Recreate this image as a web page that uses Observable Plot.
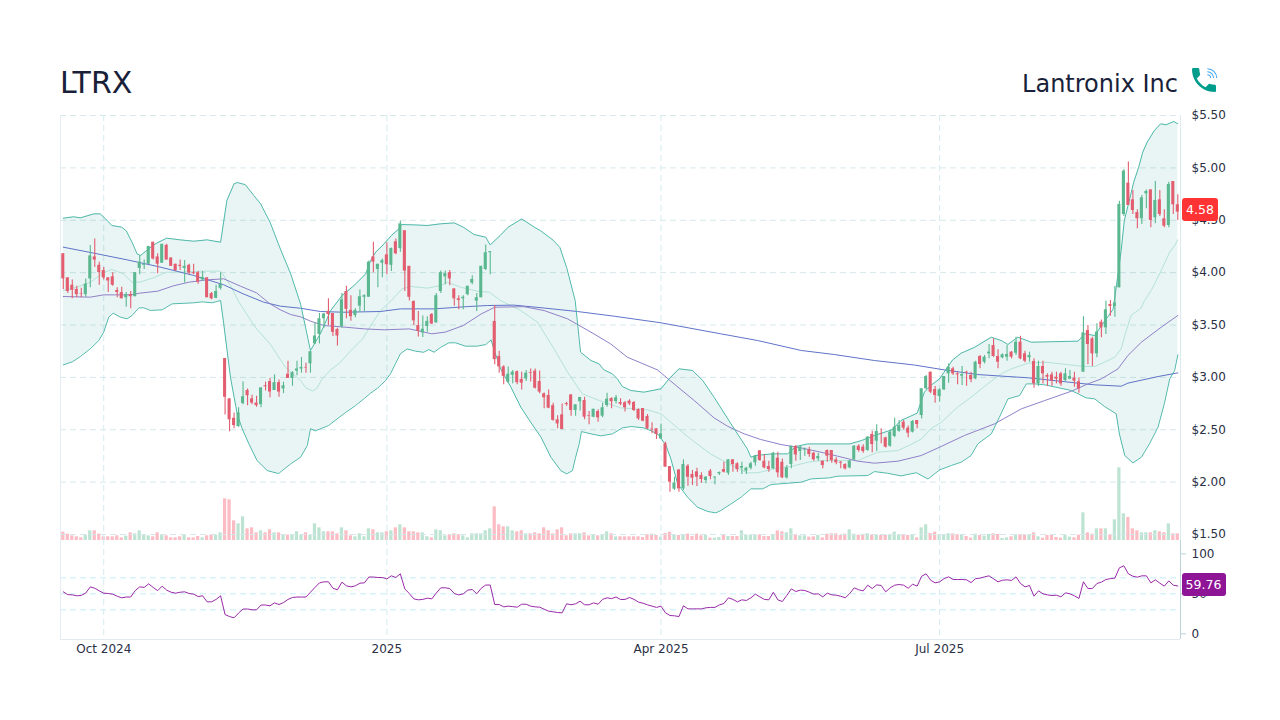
<!DOCTYPE html>
<html><head><meta charset="utf-8">
<script src="https://cdn.jsdelivr.net/npm/d3@7"></script>
<script src="https://cdn.jsdelivr.net/npm/@observablehq/plot@0.6"></script>
<style>
html,body{margin:0;background:#fff;font-family:"DejaVu Sans",sans-serif;}
#root{position:relative;width:1280px;height:720px;overflow:hidden;}
#root svg.plot{position:absolute;left:0;overflow:visible;background:transparent;}
.t{position:absolute;color:#1a1f3a;white-space:nowrap;line-height:1;}
.badge{position:absolute;color:#fff;font-size:12.5px;border-radius:3px;display:flex;align-items:center;justify-content:center;height:23px;}
</style></head><body><div id="root">
<div class="t" style="left:60px;top:68px;font-size:30px;">LTRX</div>
<div class="t" style="right:102px;top:72px;font-size:24px;">Lantronix Inc</div>
<svg style="position:absolute;left:1188px;top:64px" width="32" height="32" viewBox="0 0 24 24"><path fill="#009c8c" d="M6.62 10.79c1.44 2.83 3.76 5.14 6.59 6.59l2.2-2.2c.27-.27.67-.36 1.02-.24 1.12.37 2.33.57 3.57.57.55 0 1 .45 1 1V20c0 .55-.45 1-1 1-9.39 0-17-7.61-17-17 0-.55.45-1 1-1h3.5c.55 0 1 .45 1 1 0 1.25.2 2.45.57 3.57.11.35.03.74-.25 1.02l-2.2 2.2z"/><g fill="none" stroke="#42a5f5" stroke-width=".8"><path d="M14.5 8a2.5 2.5 0 0 1 2.5 2.5"/><path d="M14.5 5.8a4.7 4.7 0 0 1 4.7 4.7"/><path d="M14.5 3.5a7 7 0 0 1 7 7"/></g></svg>
</div>
<script>
const open=[4.18,3.95,3.88,3.84,3.80,3.79,3.94,4.15,4.07,4.02,
3.95,3.96,3.83,3.81,3.76,3.79,3.77,4.04,4.07,4.08,
4.29,4.15,4.09,4.26,4.14,4.08,4.07,4.04,4.07,4.00,
4.00,3.93,3.95,3.80,3.755,3.85,3.18,2.795,2.61,2.53,
2.75,2.875,2.795,2.755,2.74,2.92,2.96,2.875,2.95,2.89,
3.03,2.99,3.06,3.08,3.095,3.13,3.32,3.41,3.56,3.63,
3.61,3.457,3.485,3.82,3.64,3.59,3.68,3.765,3.765,4.15,
4.03,4.09,4.17,4.07,4.295,4.23,4.40,4.06,3.725,3.495,
3.425,3.485,3.60,3.52,3.82,3.96,4.00,3.845,3.75,3.75,
3.79,3.90,3.728,3.76,4.03,4.19,3.534,3.20,3.10,2.955,
3.02,3.055,2.98,2.985,3.047,3.06,2.96,2.843,2.827,2.73,
2.595,2.642,2.75,2.833,2.684,2.767,2.779,2.636,2.62,2.674,
2.63,2.732,2.798,2.77,2.76,2.757,2.773,2.76,2.693,2.703,
2.627,2.506,2.509,2.413,2.366,2.149,1.933,2.117,1.936,2.152,
2.073,2.098,2.063,2.016,2.105,2.04,2.079,2.12,2.085,2.213,
2.175,2.133,2.105,2.133,2.184,2.299,2.20,2.149,2.127,2.229,
2.19,2.041,2.168,2.34,2.292,2.302,2.308,2.276,2.222,2.20,
2.302,2.302,2.213,2.19,2.168,2.136,2.213,2.343,2.334,2.302,
2.455,2.391,2.46,2.423,2.343,2.436,2.486,2.572,2.515,2.477,
2.588,2.636,2.891,3.05,2.884,2.817,2.881,3.034,3.082,3.034,
3.012,3.05,3.018,2.986,3.199,3.145,3.225,3.304,3.199,3.187,
3.193,3.241,3.231,3.336,3.225,3.187,3.152,2.938,3.104,3.018,
3.024,3.002,3.034,2.97,2.983,2.993,2.958,3.05,3.447,3.368,
3.225,3.527,3.473,3.696,3.677,3.855,4.555,4.854,4.695,4.574,
4.514,4.752,4.79,4.523,4.695,4.514,4.45,4.87,4.648];
const high=[4.18,3.95,3.93,3.87,3.85,3.94,4.26,4.32,4.10,4.05,
3.95,4.00,3.855,3.86,3.81,3.82,4.00,4.16,4.12,4.25,
4.29,4.18,4.27,4.27,4.14,4.08,4.12,4.115,4.08,4.08,
4.01,4.01,3.95,3.81,3.88,4.00,3.18,2.795,2.66,2.71,
2.955,2.89,2.83,2.82,2.90,2.955,2.99,3.025,2.975,2.955,
3.155,3.055,3.155,3.19,3.136,3.245,3.52,3.61,3.61,3.75,
3.61,3.47,3.80,3.87,3.78,3.655,3.835,3.79,4.11,4.29,
4.08,4.13,4.285,4.235,4.32,4.49,4.40,4.06,3.73,3.63,
3.585,3.58,3.61,3.80,4.015,4.015,4.02,3.845,3.78,3.78,
3.87,3.97,3.80,4.06,4.265,4.20,3.686,3.25,3.11,3.10,
3.065,3.06,3.05,3.065,3.08,3.08,3.06,2.85,2.88,2.754,
2.633,2.747,2.763,2.833,2.738,2.811,2.811,2.674,2.696,2.69,
2.754,2.849,2.805,2.827,2.795,2.77,2.786,2.77,2.70,2.703,
2.646,2.566,2.509,2.556,2.382,2.149,2.047,2.117,2.213,2.168,
2.111,2.133,2.089,2.054,2.12,2.054,2.098,2.19,2.213,2.213,
2.184,2.19,2.143,2.19,2.254,2.299,2.264,2.20,2.286,2.286,
2.222,2.159,2.343,2.35,2.35,2.327,2.334,2.286,2.276,2.20,
2.308,2.302,2.232,2.197,2.175,2.206,2.35,2.356,2.356,2.436,
2.486,2.547,2.509,2.429,2.499,2.61,2.588,2.588,2.537,2.588,
2.588,2.891,3.018,3.05,2.913,2.891,3.008,3.129,3.098,3.05,
3.104,3.059,3.05,3.155,3.209,3.209,3.314,3.368,3.263,3.225,
3.304,3.247,3.384,3.393,3.25,3.241,3.177,3.155,3.155,3.034,
3.05,3.05,3.05,3.082,3.066,3.05,2.996,3.58,3.495,3.384,
3.511,3.549,3.728,3.734,3.868,4.682,4.982,5.055,4.784,4.60,
4.737,4.79,4.79,4.87,4.784,4.60,4.864,4.87,4.743];
const low=[3.84,3.80,3.75,3.76,3.76,3.765,3.855,4.05,3.88,3.93,
3.81,3.87,3.76,3.75,3.67,3.655,3.77,3.98,4.03,4.08,
4.12,3.99,4.09,4.12,4.06,4.01,4.02,3.90,3.98,3.98,
3.89,3.915,3.76,3.74,3.75,3.835,2.64,2.48,2.51,2.525,
2.74,2.73,2.74,2.715,2.71,2.87,2.805,2.875,2.81,2.845,
2.99,2.915,3.015,3.04,3.04,3.04,3.315,3.32,3.47,3.495,
3.39,3.30,3.47,3.56,3.535,3.57,3.62,3.63,3.765,4.00,
3.855,3.95,3.98,4.01,4.17,4.195,3.82,3.73,3.495,3.385,
3.38,3.43,3.505,3.52,3.80,3.885,3.875,3.68,3.645,3.645,
3.78,3.885,3.63,3.76,4.02,3.98,3.12,3.04,2.93,2.94,
2.94,2.93,2.88,2.96,2.955,2.89,2.845,2.70,2.70,2.582,
2.509,2.50,2.725,2.63,2.63,2.678,2.595,2.547,2.614,2.572,
2.614,2.716,2.70,2.747,2.73,2.67,2.73,2.674,2.588,2.576,
2.503,2.461,2.407,2.407,2.143,1.904,1.92,1.904,1.92,1.962,
1.968,1.958,1.99,1.984,2.022,1.974,2.063,2.088,2.063,2.095,
2.095,2.073,2.073,2.117,2.152,2.20,2.127,2.095,2.12,2.041,
2.035,2.031,2.127,2.20,2.206,2.248,2.238,2.20,2.20,2.127,
2.19,2.181,2.165,2.127,2.117,2.127,2.206,2.286,2.276,2.295,
2.28,2.292,2.366,2.327,2.334,2.423,2.477,2.499,2.423,2.47,
2.509,2.604,2.881,2.843,2.754,2.763,2.875,2.945,3.018,2.929,
2.922,2.916,2.948,2.977,3.082,3.129,3.177,3.193,3.082,3.177,
3.155,3.177,3.209,3.168,3.139,3.145,2.897,2.913,2.938,2.913,
2.916,2.938,2.916,2.961,2.977,2.907,2.849,3.05,3.12,3.104,
3.187,3.378,3.41,3.584,3.575,3.855,4.536,4.641,4.555,4.418,
4.46,4.61,4.428,4.466,4.536,4.428,4.428,4.555,4.498];
const close=[3.94,3.82,3.83,3.79,3.795,3.89,4.16,4.12,4.00,3.95,
3.92,3.88,3.81,3.75,3.79,3.77,4.00,4.10,4.08,4.25,
4.13,4.08,4.27,4.12,4.06,4.02,4.06,4.06,3.995,3.99,
3.91,3.955,3.76,3.75,3.82,3.89,2.81,2.595,2.54,2.66,
2.815,2.825,2.755,2.73,2.90,2.91,2.86,2.95,2.86,2.92,
2.99,3.045,3.08,3.095,3.09,3.245,3.395,3.56,3.605,3.60,
3.43,3.395,3.74,3.65,3.58,3.64,3.77,3.78,4.10,4.10,
4.08,4.115,4.075,4.23,4.18,4.465,4.015,3.765,3.54,3.44,
3.46,3.535,3.51,3.78,4.00,3.99,3.94,3.75,3.735,3.765,
3.87,3.935,3.76,4.06,4.19,4.20,3.17,3.10,3.01,3.03,
3.05,2.95,2.945,3.04,3.04,2.897,2.86,2.805,2.706,2.59,
2.556,2.503,2.74,2.684,2.738,2.808,2.62,2.63,2.696,2.614,
2.71,2.792,2.767,2.805,2.744,2.71,2.747,2.684,2.604,2.582,
2.509,2.50,2.455,2.461,2.143,2.00,1.99,1.936,2.168,2.047,
2.038,2.047,2.025,2.047,2.054,2.047,2.092,2.095,2.213,2.168,
2.12,2.149,2.133,2.175,2.248,2.206,2.136,2.12,2.276,2.089,
2.041,2.136,2.343,2.26,2.334,2.308,2.264,2.213,2.245,2.159,
2.248,2.206,2.184,2.181,2.127,2.20,2.343,2.302,2.292,2.429,
2.359,2.483,2.455,2.334,2.477,2.525,2.54,2.515,2.467,2.579,
2.55,2.891,3.008,2.859,2.827,2.881,3.008,3.098,3.034,3.024,
3.027,3.043,2.977,3.145,3.123,3.193,3.241,3.199,3.145,3.215,
3.218,3.193,3.336,3.177,3.155,3.209,2.938,3.104,3.034,3.002,
2.964,2.983,2.938,3.034,3.008,2.964,2.891,3.425,3.314,3.225,
3.432,3.473,3.645,3.677,3.709,4.651,4.969,4.641,4.593,4.514,
4.714,4.775,4.498,4.689,4.555,4.444,4.842,4.648,4.578];
const volume=[417,317,233,183,133,267,483,483,317,183,
183,183,233,133,217,383,333,483,267,233,
183,383,283,233,133,133,183,267,133,133,
200,133,233,267,267,383,2083,2033,983,833,
1183,583,633,383,483,383,533,383,383,267,
267,267,433,267,383,267,833,633,433,433,
433,333,633,483,233,183,333,183,583,533,
383,383,433,483,633,783,633,433,433,383,
383,183,133,533,483,233,283,333,283,233,
133,333,333,333,483,583,1683,783,683,683,
483,433,483,333,333,383,333,633,483,333,
533,633,233,333,333,333,383,233,283,233,
283,433,333,183,183,183,183,183,183,150,
283,317,250,167,350,417,250,250,283,317,
200,317,233,250,117,117,150,250,200,200,
200,483,267,267,267,283,200,200,250,483,
433,383,583,283,233,233,167,183,250,133,
317,333,333,250,317,533,317,267,267,333,
267,283,250,250,283,417,283,250,250,250,
133,633,783,350,417,283,283,333,333,283,
283,200,117,317,250,217,300,333,300,100,
133,183,283,283,250,283,383,183,117,250,
250,150,117,250,167,133,267,1383,383,317,
583,583,583,283,1033,3633,1333,1150,583,483,
383,383,383,483,433,383,833,333,333];
const rsi=[52.5,49,48.7,47.5,48,51,58.7,57,53.7,50.8,
50.4,49.6,47,45,46,46,54,58.7,58,62.5,
58,54,59.6,54.6,52,50.8,52,52.5,50.4,49.6,
46.6,47.5,40,40,43,47.5,24,21.6,20,26,
31,31,30,30,36,36,35,38.7,36.6,39,
43,45.4,46,46,46,52,58,63.7,65,65,
57,55,64.6,60,58.7,60,63.3,63.7,71,71,
70.4,70.4,68.7,72.5,70.4,75,56,50.4,43.7,42.5,
43,44.6,43.7,51,57.5,57.5,56.6,50.4,48.7,50,
54.6,55.4,50,57,61,61,36.6,36.6,33.7,34.6,
34,33.3,37,37,34.6,33.7,33.3,30.8,28.3,27.5,
26.6,26.2,37.5,36.3,37.5,40.8,36.3,36.3,38.7,37,
43,45,44,46,42.9,43,45.4,43,39.6,38.3,
36.2,34.6,33,34.6,26.2,22.9,22.5,21.6,35,31.2,
31.2,31.2,31.2,32.5,33,33,36.2,37.9,45,43,
40,42.5,41.7,45,49.6,46.2,43,42.5,52,42.5,
40.4,48,56.2,52.9,54.6,54.2,52,49.6,50,46.2,
50.8,48.7,48.3,47,45,50.4,57.5,55,53.7,60.8,
56.6,61.2,60.4,52.5,57.5,60.8,61.6,60.8,57,62,
59.6,72,75,67,63.7,65,69,71.2,67.9,67.9,
67.9,67.5,64,69,69.6,71.2,72.5,68.7,65,67,
67.5,66.7,71.2,62.9,58.7,60.4,47,53.7,50,48.7,
47.9,48.3,46.2,51.2,50,47.5,44.2,65,56.6,56.6,
62.9,64.6,67.9,69,69.6,82.5,85,75,72,70.8,
72.5,72.5,63.7,67.5,63.3,59.6,66.2,60.8,59.76];
const upperIdx=[0,2.3,3.8,6.8,8.2,9.4,10.8,13,14,15.3,16.4,17.2,18.5,20.5,23,26,29,32,35,36.4,38,38.7,40.5,42.4,43.9,46,48.3,50.6,52.8,53.9,55,57.2,59.5,62,64.7,67.3,68.4,69.5,71.4,73,74.7,75.3,78,81,84,87,89,91.4,94,95,97.2,99,102,104.8,106.2,109,110.5,112,113.9,115.1,117.4,119.2,120.3,122.2,123.3,124.4,126.3,129.2,133,134.8,137,140,142.3,144.8,149.3,152.2,153,154,157.8,161.2,163,165.6,175,177.6,180.5,184.4,186.4,190,191.6,193,195,196,197.9,199.8,202.8,206.5,208.7,210.2,212.4,215.4,225.8,227.3,229.5,231.3,233.6,234.3,235.4,236.1,237.3,238.2,239.3,240.2,241.2,242.8,244.2,245.4,247.1,248];
const upperVal=[4.52,4.533,4.523,4.561,4.561,4.514,4.45,4.434,4.40,4.29,4.18,4.164,4.21,4.275,4.329,4.313,4.30,4.313,4.29,4.689,4.848,4.86,4.84,4.736,4.657,4.482,4.227,3.988,3.70,3.48,3.256,3.416,3.638,3.78,3.877,3.988,4.116,4.195,4.275,4.354,4.418,4.459,4.456,4.45,4.466,4.475,4.434,4.364,4.338,4.265,4.354,4.434,4.513,4.434,4.40,4.31,4.24,4.05,3.734,3.241,3.161,3.13,3.072,3.034,2.986,2.913,2.875,2.859,2.891,2.986,3.082,3.066,2.97,2.811,2.509,2.318,2.238,2.254,2.27,2.27,2.34,2.365,2.365,2.397,2.445,2.5,2.588,2.658,2.859,2.922,2.986,3.05,3.167,3.231,3.288,3.384,3.352,3.314,3.384,3.336,3.346,3.416,3.40,3.511,3.65,3.86,4.212,4.498,4.705,4.864,5.007,5.15,5.246,5.357,5.421,5.411,5.443,5.421];
const lowerIdx=[0,2,3.8,6,7.9,9,10.1,11.1,12.7,14.2,15.3,16.8,17.9,19.4,22,24.2,29,30.9,33.1,35,35.7,37.2,38.7,39.8,41.3,43.1,45.4,47.9,50.6,52.8,54.3,55,56.1,59,62.8,65,67,68.4,70,71.7,72.8,73.9,75,76.5,78.4,80.2,81.3,82.5,84,85.8,87.3,89.5,92.1,94,95.2,95.9,97.3,99.6,101.8,104,106.3,108.5,110.7,112,113.3,114,114.8,115.3,117.4,119.6,122.2,124.4,126.3,129.2,131,132.6,134.1,135.2,136.7,138.9,141.1,143.4,145.2,146.3,148.6,150.8,153,155.6,157.5,164.2,166.4,170.5,172.3,175.3,179,180.5,183.4,186.4,189.8,192.4,195,197.6,199.8,202,203.5,206.5,208.3,210.2,212.8,214.3,216.1,218.4,224.3,227.6,229.5,231.7,234.3,235,236.2,238,239.9,241.7,243.6,245,246.2,247.3,248];
const lowerVal=[3.12,3.148,3.199,3.273,3.352,3.432,3.575,3.613,3.575,3.559,3.591,3.664,3.664,3.639,3.645,3.702,3.712,3.721,3.712,3.734,3.511,3.0,2.652,2.509,2.366,2.207,2.11,2.082,2.175,2.238,2.35,2.51,2.49,2.54,2.665,2.73,2.80,2.85,2.90,2.97,3.034,3.13,3.225,3.272,3.25,3.24,3.266,3.24,3.288,3.33,3.33,3.298,3.298,3.314,3.358,3.257,3.082,2.907,2.716,2.572,2.429,2.238,2.11,2.079,2.11,2.238,2.366,2.483,2.461,2.442,2.461,2.518,2.531,2.518,2.487,2.445,2.35,2.222,1.984,1.857,1.761,1.72,1.707,1.729,1.793,1.856,1.936,1.936,1.977,2.0,2.031,2.041,2.057,2.06,2.063,2.101,2.085,2.06,2.09,2.03,2.117,2.159,2.191,2.254,2.366,2.461,2.62,2.795,2.827,2.938,2.938,2.929,2.875,2.805,2.795,2.722,2.652,2.461,2.254,2.184,2.238,2.366,2.525,2.748,2.986,3.066,3.215];
const midIdx=[0,3,6,9,10.8,13.4,15.3,17,20,23,26,30.5,35,37.2,39,42.7,46,49.4,52.8,54,55.5,56.5,57.6,59.5,61.7,64,66.6,68.4,70.6,73,75.4,77.3,81,84,85.5,88.4,92.1,94.8,97.3,101.8,105.5,109.2,112.2,115.5,119.3,124,130,133,135.2,138.2,141,144,147.8,152.2,154.5,158.2,161.9,165.6,168.6,171.6,176.8,181.2,185.7,188.6,191,193,195.4,199,202,205.7,208.7,211,214.7,218.4,222,227.2,229.5,231.7,234,235.4,236.2,237.6,238.5,239.8,240.6,242.1,244.3,246.2,247.3,248];
const midVal=[3.83,3.861,3.909,4.0,4.03,3.988,3.909,3.909,3.95,4.004,4.004,4.014,4.014,3.877,3.725,3.479,3.32,3.098,2.97,2.90,2.87,2.90,2.986,3.072,3.145,3.256,3.368,3.495,3.638,3.734,3.845,3.868,3.852,3.877,3.909,3.861,3.823,3.813,3.734,3.638,3.527,3.272,3.05,2.843,2.779,2.709,2.69,2.652,2.572,2.461,2.366,2.27,2.181,2.089,2.089,2.127,2.149,2.19,2.206,2.206,2.206,2.286,2.302,2.359,2.413,2.509,2.572,2.716,2.811,2.938,3.034,3.082,3.136,3.145,3.129,3.104,3.104,3.145,3.193,3.273,3.40,3.591,3.62,3.66,3.734,3.83,4.02,4.196,4.259,4.313];
const sma50Idx=[0,6,9,15,17,21,24.5,28,32,35.7,39.4,43,46,48.3,50.6,52.8,55,58,62,67,71.4,77,82,85,89,93,96,102.5,107,112.2,117.4,121.8,125.5,132.2,135.9,140.4,144.8,147.8,151.5,155.2,159.7,164.2,168.6,172.3,176.8,180.5,185.7,190.9,195.3,200.5,207.2,213.2,218.4,224.3,228,231,234.7,236.9,239.9,244.3,248];
const sma50Val=[3.772,3.766,3.788,3.788,3.804,3.823,3.874,3.909,3.931,3.941,3.871,3.807,3.702,3.645,3.60,3.578,3.537,3.495,3.482,3.463,3.454,3.463,3.416,3.432,3.495,3.606,3.67,3.675,3.638,3.559,3.432,3.32,3.193,3.072,2.938,2.779,2.614,2.534,2.461,2.407,2.359,2.327,2.286,2.248,2.2,2.181,2.2,2.254,2.34,2.445,2.556,2.70,2.779,2.868,2.938,2.986,3.082,3.209,3.336,3.479,3.591];
const sma200Idx=[0,6.8,14.2,21,29,35.7,40,44.6,48.3,52.8,57.2,62.4,70.6,75,82.5,90,94.4,100.3,106.3,114.4,122.6,133,146.3,154.5,164.2,171.6,180.5,189.4,196,203.5,214.7,225.8,229.5,235.4,236.9,243.6,248];
const sma200Val=[4.243,4.186,4.122,4.059,3.973,3.884,3.798,3.718,3.68,3.66,3.629,3.622,3.629,3.654,3.654,3.676,3.686,3.69,3.665,3.629,3.584,3.521,3.416,3.352,3.257,3.218,3.161,3.118,3.072,3.027,2.996,2.945,2.929,2.916,2.945,3.008,3.043];
const priceTicks=[1.5,2,2.5,3,3.5,4,4.5,5,5.5];
const rsiTicks=[0,50,100];
const rsiGrid=[30,50,70];
const tickIdx=[9,72,133,195];
const tickLabels=["Oct 2024","2025","Apr 2025","Jul 2025"];
const lastClose=4.58, lastRsi=59.76;

const RED="#e25d6f",GREEN="#5ab78f",PINK="#fbbcc4",MINT="#bde3d2",TEAL="#3cb1a0",GRID="#d6e8ec",VGRID="#d4ebf0";
const n=open.length, rows=d3.range(n);
const xDomain=[-0.623,248.6];
const W=1280, ML=60, MR=100;
const dash="6,4";
const col=(i,a,b)=>close[i]>=open[i]?a:b;
const base={width:W,marginLeft:ML,marginRight:MR,x:{domain:xDomain,axis:null},style:{fontFamily:"DejaVu Sans",fontSize:"12px",color:"#2a2f45",background:"transparent",overflow:"visible"}};
const lineOf=(xs,ys,stroke,sw,extra={})=>Plot.line(xs.map((_,k)=>k),{x:k=>xs[k],y:k=>ys[k],stroke,strokeWidth:sw,...extra});
const vrule=Plot.ruleX(tickIdx,{stroke:VGRID,strokeDasharray:dash,strokeWidth:1});

// volume
const volPlot=Plot.plot({...base,height:100,marginTop:0,marginBottom:0,y:{domain:[0,5000],axis:null},marks:[
  Plot.rect(rows,{x1:i=>i-0.36,x2:i=>i+0.36,y1:0,y2:i=>volume[i],fill:i=>col(i,MINT,PINK)})
]});
volPlot.style.top="440px";

// price
const nA=Math.max(upperIdx.length,lowerIdx.length);
const at=(a,k)=>a[Math.min(k,a.length-1)];
const pricePlot=Plot.plot({...base,height:440,marginTop:15,marginBottom:0,y:{domain:[1.443,5.5],axis:null},marks:[
  Plot.ruleY(priceTicks,{stroke:GRID,strokeDasharray:dash,strokeWidth:1}),
  vrule,
  Plot.ruleX([xDomain[0]],{stroke:"#e4edf3"}),
  Plot.ruleX([xDomain[1]],{stroke:"#dce9ee"}),
  Plot.area(d3.range(nA),{x1:k=>at(upperIdx,k),y1:k=>at(upperVal,k),x2:k=>at(lowerIdx,k),y2:k=>at(lowerVal,k),fill:"#0d8f86",fillOpacity:0.09}),
  lineOf(midIdx,midVal,"#b4e2d8",1),
  lineOf(sma200Idx,sma200Val,"#5f73c9",1),
  lineOf(sma50Idx,sma50Val,"#9180c9",1),
  lineOf(upperIdx,upperVal,TEAL,0.9),
  lineOf(lowerIdx,lowerVal,TEAL,0.9),
  Plot.ruleX(rows,{x:i=>i,y1:i=>low[i],y2:i=>high[i],stroke:i=>col(i,GREEN,RED),strokeWidth:1.1}),
  Plot.rect(rows,{x1:i=>i-0.34,x2:i=>i+0.34,y1:i=>Math.min(open[i],close[i]),y2:i=>Math.max(open[i],close[i]),fill:i=>col(i,GREEN,RED)}),
  Plot.axisY({anchor:"right",ticks:priceTicks,tickFormat:d=>"$"+d.toFixed(2),tickSize:0,tickPadding:11,stroke:"none",fill:"#2a2f45",label:null})
]});
pricePlot.style.top="100px";

// RSI
const rsiPlot=Plot.plot({...base,height:130,marginTop:0,marginBottom:30,y:{domain:[-7.1,117.9],axis:null},marks:[
  Plot.ruleY(rsiGrid,{stroke:"#c6eef8",strokeDasharray:dash,strokeWidth:1}),
  vrule,
  Plot.ruleX([xDomain[0]],{stroke:"#e4edf3"}),
  Plot.ruleX([xDomain[1]],{stroke:"#bcd3dc"}),
  Plot.ruleY([-7.1],{stroke:"#e0eaf0"}),
  lineOf(rows,rsi,"#9a2aa8",1),
  Plot.axisY({anchor:"right",ticks:rsiTicks,tickSize:5,tickPadding:6,stroke:"#bcd3dc",fill:"#2a2f45",label:null}),
  Plot.axisX({ticks:tickIdx,tickFormat:d=>tickLabels[tickIdx.indexOf(d)],tickSize:0,tickPadding:5,stroke:"none",fill:"#2a2f45",label:null})
]});
rsiPlot.style.top="539px";

const root=document.getElementById("root");
[volPlot,rsiPlot,pricePlot].forEach(p=>{p.classList.add("plot");root.appendChild(p);});

function badge(text,bg,left,w,cy){
  const d=document.createElement("div");
  d.className="badge";d.textContent=text;
  d.style.cssText+=`left:${left}px;width:${w}px;top:${cy-11.5}px;background:${bg};`;
  root.appendChild(d);
}
badge(lastClose.toFixed(2),"#ff3333",1182,36,100+pricePlot.scale("y").apply(lastClose)-1.5);
badge(lastRsi.toFixed(2),"#8e1596",1181.5,44,539+rsiPlot.scale("y").apply(lastRsi)-1);
</script>
</body></html>
